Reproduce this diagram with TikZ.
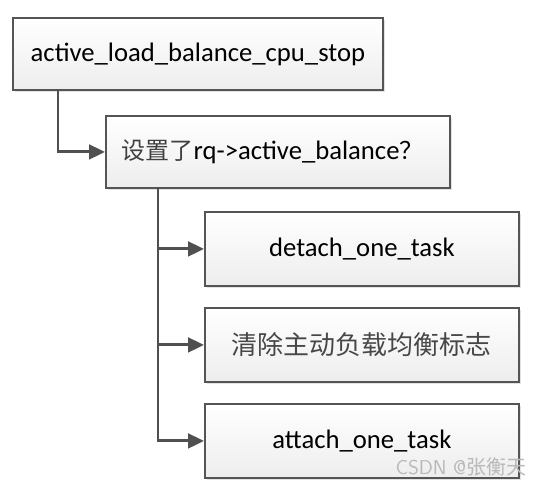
\documentclass[tikz,border=0pt]{standalone}
\usepackage{fontspec}
\setmainfont{Carlito}
\newfontfamily\cjk{Noto Sans CJK SC}
\usetikzlibrary{arrows.meta,shadows}
\definecolor{edgec}{HTML}{505050}
\definecolor{boxline}{HTML}{555555}
\tikzset{
  px/.style={x=0.75pt,y=-0.75pt},
  box/.style={draw=boxline, line width=1.4pt, top color=white, bottom color=gray!14,
    anchor=north west, inner sep=0pt, font=\fontsize{20}{24}\selectfont,
    drop shadow={shadow xshift=1.5pt, shadow yshift=-1.5pt, fill=gray!45, opacity=0.5}},
  conn/.style={draw=edgec, line width=2.2pt, -{Triangle[length=12pt,width=11pt]}}
}
\begin{document}
\begin{tikzpicture}[px]
\useasboundingbox (0,0) rectangle (546,487);
\node[box, minimum width=277.5pt, minimum height=54pt] (a) at (12,17) {active\_load\_balance\_cpu\_stop};
\node[box, minimum width=258pt, minimum height=54pt] (b) at (105,115) {{\cjk\fontsize{18}{20}\selectfont\color{black!75}设置了}rq->active\_balance{\cjk\fontsize{18}{20}\selectfont ？}\hspace*{8pt}};
\node[box, minimum width=235.5pt, minimum height=55.5pt] (c) at (204,211) {detach\_one\_task};
\node[box, minimum width=235.5pt, minimum height=55.5pt, font=\cjk\fontsize{19.5}{22}\selectfont\color{black!72}] (d) at (204,307) {清除主动负载均衡标志};
\node[box, minimum width=235.5pt, minimum height=55.5pt] (e) at (204,403) {attach\_one\_task};
\coordinate (a1) at (58,89);
\coordinate (b1) at (158,187);
\draw[conn] (a1) |- (b.west);
\draw[conn] (b1) |- (c.west);
\draw[conn] (b1) |- (d.west);
\draw[conn] (b1) |- (e.west);
\node[font=\fontsize{15}{17}\selectfont\sffamily, text=gray!55, anchor=east] (w) at (531,467) {CSDN @{\cjk 张衡天}};
\end{tikzpicture}
\end{document}
